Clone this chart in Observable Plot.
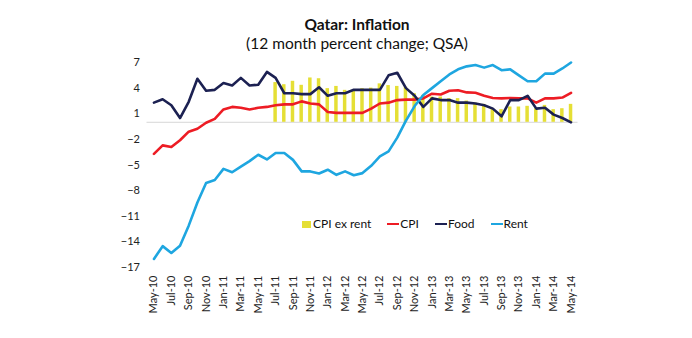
<!DOCTYPE html>
<html>
<head>
<meta charset="utf-8">
<script src="https://cdn.jsdelivr.net/npm/d3@7"></script>
<script src="https://cdn.jsdelivr.net/npm/@observablehq/plot@0.6"></script>
<style>
  body { margin: 0; background: #fff; font-family: Lato, "Open Sans", sans-serif; }
  #wrap { position: relative; width: 692px; height: 338px; overflow: hidden; }
  #wrap svg { position: absolute; left: 0; top: 0; }
  .title { position: absolute; left: 0; width: 714px; text-align: center; color: #111; white-space: nowrap; }
  #t1 { top: 14px; font-size: 15.5px; font-weight: bold; line-height: 20px; }
  #t2 { top: 33px; font-size: 15.5px; line-height: 20px; }
  #legend { position: absolute; left: 302px; top: 216px; display: flex; align-items: center; font-size: 12px; color: #111; white-space: nowrap; line-height: 16px; }
  .item { display: flex; align-items: center; margin-right: 16px; }
  .sq { width: 9px; height: 7px; margin-right: 2px; }
  .ln { width: 12px; height: 2.5px; margin-right: 1px; }
</style>
</head>
<body>
<div id="wrap">
  <div class="title" id="t1">Qatar: Inflation</div>
  <div class="title" id="t2">(12 month percent change; QSA)</div>
  <div id="legend"></div>
</div>
<script>
const months = ["May-10","Jun-10","Jul-10","Aug-10","Sep-10","Oct-10","Nov-10","Dec-10",
  "Jan-11","Feb-11","Mar-11","Apr-11","May-11","Jun-11","Jul-11","Aug-11","Sep-11","Oct-11","Nov-11","Dec-11",
  "Jan-12","Feb-12","Mar-12","Apr-12","May-12","Jun-12","Jul-12","Aug-12","Sep-12","Oct-12","Nov-12","Dec-12",
  "Jan-13","Feb-13","Mar-13","Apr-13","May-13","Jun-13","Jul-13","Aug-13","Sep-13","Oct-13","Nov-13","Dec-13",
  "Jan-14","Feb-14","Mar-14","Apr-14","May-14"];

const xTickLabels = ["May-10","Jul-10","Sep-10","Nov-10","Jan-11","Mar-11","May-11","Jul-11","Sep-11","Nov-11",
  "Jan-12","Mar-12","May-12","Jul-12","Sep-12","Nov-12","Jan-13","Mar-13","May-13","Jul-13","Sep-13","Nov-13",
  "Jan-14","Mar-14","May-14"];

const yTicks = [7, 4, 1, -2, -5, -8, -11, -14, -17];

const cpiExRent = [null,null,null,null,null,null,null,null,null,null,null,null,null,null,
  4.65, 4.4, 4.8, 4.33, 5.19, 5.1, 3.94, 4.2, 3.74, 3.7, 3.94, 4.0, 4.5, 4.3, 4.2, 4.1,
  3.35, 3.15, 2.96, 2.96, 2.77, 2.77, 2.49, 2.25, 2.1, 1.59, 1.48, 1.79, 1.79, 1.87, 1.59, 1.98, 1.48, 1.59, 2.1];

const cpi = [-3.7, -2.7, -2.9, -2.1, -1.1, -0.75, -0.05, 0.4, 1.5, 1.8, 1.7, 1.5, 1.7, 1.8, 2.0, 2.1,
  2.1, 2.45, 2.2, 2.1, 1.2, 1.1, 1.1, 1.1, 1.1, 1.6, 2.2, 2.3, 2.6, 2.65, 2.65, 2.8,
  3.35, 3.25, 3.7, 3.75, 3.5, 3.45, 3.1, 2.85, 2.8, 2.85, 2.8, 2.8, 2.3, 2.8, 2.8, 2.9, 3.45];

const food = [2.3, 2.7, 2.0, 0.5, 2.4, 5.1, 3.7, 3.8, 4.6, 4.3, 5.2, 4.3, 4.4, 5.9, 5.2, 3.4,
  3.4, 3.3, 3.3, 4.1, 3.1, 3.4, 3.4, 3.8, 3.8, 3.8, 3.8, 5.5, 5.8, 4.0, 3.1, 1.8,
  2.8, 2.6, 2.6, 2.3, 2.3, 2.2, 2.0, 1.6, 0.7, 2.6, 2.6, 3.1, 1.6, 1.7, 0.9, 0.5, 0.0];

const rent = [-16.0, -14.5, -15.3, -14.45, -12.1, -9.4, -7.1, -6.75, -5.45, -5.85, -5.2, -4.55, -3.8, -4.35, -3.6, -3.6,
  -4.4, -5.75, -5.75, -6.0, -5.55, -6.15, -5.75, -6.2, -5.95, -5.1, -4.0, -3.4, -1.8, 0.2, 1.9, 3.2,
  4.0, 4.8, 5.6, 6.2, 6.55, 6.7, 6.4, 6.7, 6.1, 6.2, 5.5, 4.8, 4.8, 5.7, 5.7, 6.3, 7.0];

const seriesNames = ["CPI ex rent", "CPI", "Food", "Rent"];
const seriesColors = ["#e5df35", "#ed1c24", "#1c2152", "#1ea6e0"];

const data = months.map((m, i) => ({month: m, cpiExRent: cpiExRent[i], cpi: cpi[i], food: food[i], rent: rent[i]}));

const chart = Plot.plot({
  width: 692,
  height: 338,
  marginTop: 62,
  marginBottom: 71,
  marginLeft: 146.5,
  marginRight: 114.5,
  style: {fontFamily: "Lato, 'Open Sans', sans-serif", fontSize: "11px", color: "#222", background: "transparent"},
  x: {type: "band", domain: months, padding: 0.6, ticks: xTickLabels, tickRotate: -90, tickSize: 0, tickPadding: 8, label: null},
  y: {domain: [-17, 7], ticks: yTicks, tickSize: 0, tickPadding: 7, label: null},
  marks: [
    Plot.ruleY([0], {stroke: "#d6d6d6", strokeWidth: 1}),
    Plot.barY(data.filter(d => d.cpiExRent != null), {x: "month", y: "cpiExRent", fill: seriesColors[0]}),
    Plot.lineY(data, {x: "month", y: "cpi", stroke: seriesColors[1], strokeWidth: 2.6}),
    Plot.lineY(data, {x: "month", y: "food", stroke: seriesColors[2], strokeWidth: 2.6}),
    Plot.lineY(data, {x: "month", y: "rent", stroke: seriesColors[3], strokeWidth: 2.6})
  ]
});
chart.querySelectorAll("text").forEach(t => {});
document.getElementById("wrap").prepend(chart);

const legend = document.getElementById("legend");
seriesNames.forEach((name, i) => {
  const item = document.createElement("div");
  item.className = "item";
  const sw = document.createElement("span");
  sw.className = i === 0 ? "sq" : "ln";
  sw.style.background = seriesColors[i];
  const label = document.createElement("span");
  label.textContent = name;
  item.append(sw, label);
  legend.append(item);
});
</script>
</body>
</html>
